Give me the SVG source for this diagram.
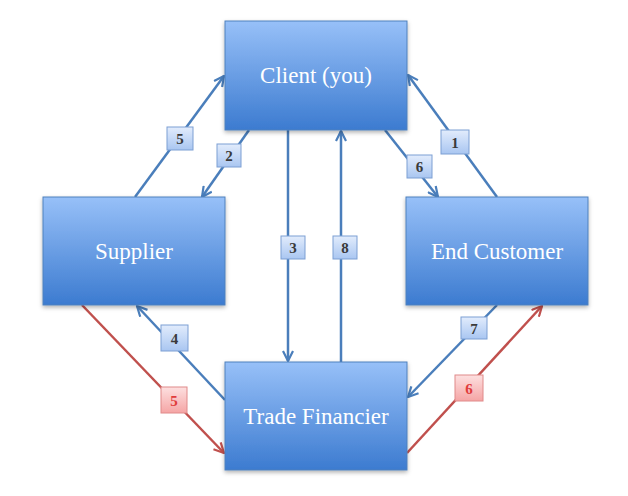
<svg xmlns="http://www.w3.org/2000/svg" width="628" height="496" viewBox="0 0 628 496">
<defs>
<linearGradient id="boxg" x1="0" y1="0" x2="0" y2="1">
<stop offset="0" stop-color="#97c0f8"/>
<stop offset="1" stop-color="#3c7bd0"/>
</linearGradient>
<linearGradient id="lblb" x1="0" y1="0" x2="0" y2="1">
<stop offset="0" stop-color="#e2ecfc"/>
<stop offset="1" stop-color="#a9c6f1"/>
</linearGradient>
<linearGradient id="lblr" x1="0" y1="0" x2="0" y2="1">
<stop offset="0" stop-color="#fde0e0"/>
<stop offset="1" stop-color="#f5a5a5"/>
</linearGradient>
<filter id="sh" x="-10%" y="-10%" width="130%" height="130%">
<feDropShadow dx="0" dy="2" stdDeviation="2" flood-color="#000" flood-opacity="0.3"/>
</filter>
<marker id="ab" viewBox="0 0 12 12" refX="11" refY="6" markerWidth="12" markerHeight="12" markerUnits="userSpaceOnUse" orient="auto">
<path d="M1,1 L11,6 L1,11" fill="none" stroke="#4a7ebb" stroke-width="2.2"/>
</marker>
<marker id="ar" viewBox="0 0 12 12" refX="11" refY="6" markerWidth="12" markerHeight="12" markerUnits="userSpaceOnUse" orient="auto">
<path d="M1,1 L11,6 L1,11" fill="none" stroke="#c0504d" stroke-width="2.2"/>
</marker>
</defs>
<style>
.box{fill:url(#boxg);stroke:#4f81bd;stroke-width:1;filter:url(#sh)}
.btxt{font-family:"Liberation Serif","DejaVu Serif",serif;font-size:23px;fill:#ffffff;text-anchor:middle}
.lb{stroke:#4a7ebb;stroke-width:2.5;fill:none;marker-end:url(#ab)}
.lr{stroke:#c0504d;stroke-width:2.5;fill:none;marker-end:url(#ar)}
.tagb{fill:url(#lblb);stroke:#7d9fd3;stroke-width:1}
.tagr{fill:url(#lblr);stroke:#e08a8a;stroke-width:1}
.tt{font-family:"Liberation Serif","DejaVu Serif",serif;font-size:15px;font-weight:bold;text-anchor:middle;fill:#3a3a3a}
.tr{fill:#e03c3c}
</style>
<rect width="628" height="496" fill="#ffffff"/>
<g id="connectors">
<line class="lb" x1="135" y1="197" x2="224" y2="76"/>
<line class="lb" x1="249" y1="130" x2="202" y2="197"/>
<line class="lb" x1="497" y1="197" x2="408" y2="75"/>
<line class="lb" x1="385" y1="130" x2="438" y2="197"/>
<line class="lb" x1="288" y1="130" x2="288" y2="361"/>
<line class="lb" x1="341" y1="362" x2="341" y2="131"/>
<line class="lb" x1="225" y1="400" x2="137" y2="306"/>
<line class="lb" x1="497" y1="305" x2="408" y2="397"/>
<line class="lr" x1="82" y1="305" x2="224" y2="453"/>
<line class="lr" x1="407" y1="453" x2="542" y2="306"/>
</g>
<g id="label-5a"><rect class="tagb" x="167" y="127" width="26" height="23"/><text class="tt" x="180" y="144">5</text></g>
<g id="label-2"><rect class="tagb" x="217" y="144" width="24" height="23"/><text class="tt" x="229" y="161">2</text></g>
<g id="label-1"><rect class="tagb" x="441" y="130" width="28" height="24"/><text class="tt" x="455" y="148">1</text></g>
<g id="label-6a"><rect class="tagb" x="407" y="155" width="25" height="23"/><text class="tt" x="419.5" y="172">6</text></g>
<g id="label-3"><rect class="tagb" x="281" y="236" width="24" height="23"/><text class="tt" x="293" y="253">3</text></g>
<g id="label-8"><rect class="tagb" x="333" y="236" width="24" height="23"/><text class="tt" x="345" y="253">8</text></g>
<g id="label-4"><rect class="tagb" x="161" y="325" width="27" height="26"/><text class="tt" x="174.5" y="344">4</text></g>
<g id="label-7"><rect class="tagb" x="461" y="317" width="26" height="22"/><text class="tt" x="474" y="334">7</text></g>
<g id="label-5b"><rect class="tagr" x="161" y="387" width="26" height="26"/><text class="tt tr" x="174" y="406">5</text></g>
<g id="label-6b"><rect class="tagr" x="455" y="375" width="28" height="26"/><text class="tt tr" x="469" y="394">6</text></g>
<g id="client"><rect class="box" x="225" y="21" width="182" height="109"/><text class="btxt" x="316" y="83">Client (you)</text></g>
<g id="supplier"><rect class="box" x="43" y="197" width="182" height="108"/><text class="btxt" x="134" y="259">Supplier</text></g>
<g id="end-customer"><rect class="box" x="406" y="197" width="182" height="108"/><text class="btxt" x="497" y="259">End Customer</text></g>
<g id="trade-financier"><rect class="box" x="225" y="362" width="182" height="108"/><text class="btxt" x="316" y="424">Trade Financier</text></g>
</svg>
